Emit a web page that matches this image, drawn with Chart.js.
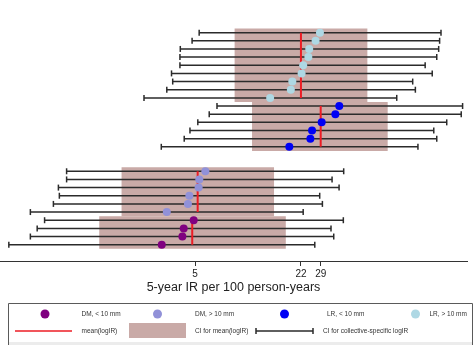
<!DOCTYPE html>
<html>
<head>
<meta charset="utf-8">
<script src="https://cdn.jsdelivr.net/npm/chart.js@4.4.1/dist/chart.umd.min.js"></script>
<style>
  html, body { margin: 0; padding: 0; background: #ffffff; }
  #wrap { width: 474px; height: 345px; position: relative; }
</style>
</head>
<body>
<div id="wrap"><canvas id="c" width="474" height="345"></canvas></div>
<script>
// ---- Data ----
const groupLabels = ['LR, > 10 mm', 'LR, < 10 mm', 'DM, > 10 mm', 'DM, < 10 mm'];

// LR, > 10 mm
const lrGt10Est = [28.7, 27.0, 24.7, 24.4, 22.7, 22.2, 19.5, 19.1, 14.3];
const lrGt10Lo  = [5.3, 4.8, 4.07, 4.05, 4.05, 3.6, 3.66, 3.37, 2.45];
const lrGt10Hi  = [156, 153, 151, 147, 125, 138, 105, 109, 84];
// LR, < 10 mm
const lrLt10Est = [37.6, 35.6, 29.4, 25.7, 25.1, 18.7];
const lrLt10Lo  = [6.8, 6.1, 5.2, 4.66, 4.3, 3.12];
const lrLt10Hi  = [211, 207, 169, 141, 147, 113];
// DM, > 10 mm
const dmGt10Est = [5.78, 5.31, 5.26, 4.62, 4.53, 3.37];
const dmGt10Lo  = [0.83, 0.83, 0.74, 0.75, 0.69, 0.50];
const dmGt10Hi  = [40.0, 34.0, 37.5, 28.6, 29.7, 22.7];
// DM, < 10 mm
const dmLt10Est = [4.91, 4.27, 4.19, 3.14];
const dmLt10Lo  = [0.61, 0.55, 0.50, 0.37];
const dmLt10Hi  = [39.8, 33.5, 34.8, 26.7];

// group means of logIR (back-transformed) and their CI, same order as groupLabels
const groupMean   = [22.0, 29.0, 5.19, 4.81];
const groupMeanLo = [8.7, 11.1, 1.79, 1.31];
const groupMeanHi = [55.7, 74.0, 15.1, 17.8];

const tickValues = [5, 22, 29];
const xTitle = '5-year IR per 100 person-years';
const legendMarkerLabels = ['DM, < 10 mm', 'DM, > 10 mm', 'LR, < 10 mm', 'LR, > 10 mm'];
const legendOtherLabels = ['mean(logIR)', 'CI for mean(logIR)', 'CI for collective-specific logIR'];

// ---- Styles ----
const dotColors = {
  'DM, < 10 mm': '#800080',
  'DM, > 10 mm': '#9191d8',
  'LR, < 10 mm': '#0000f5',
  'LR, > 10 mm': '#aed8e4'
};
const boxColor = '#c9aaa7';
const whiskerColor = '#2b2b2b';
const meanColor = '#ec1c24';

// ---- Build rows (top to bottom) ----
const groupEst = [lrGt10Est, lrLt10Est, dmGt10Est, dmLt10Est];
const groupLo  = [lrGt10Lo, lrLt10Lo, dmGt10Lo, dmLt10Lo];
const groupHi  = [lrGt10Hi, lrLt10Hi, dmGt10Hi, dmLt10Hi];
const gapAfter = [0, 2, 0, 0];

const boxDatasets = [], dotDatasets = [];
const whiskerData = [], meanData = [];
let row = 0;
groupLabels.forEach((lab, g) => {
  const first = row;
  const est = groupEst[g];
  const dots = [];
  est.forEach((v, i) => {
    dots.push({x: v, y: row});
    whiskerData.push({x: groupLo[g][i], y: row}, {x: groupHi[g][i], y: row}, {x: null, y: null});
    row++;
  });
  const last = row - 1;
  meanData.push({x: groupMean[g], y: first}, {x: groupMean[g], y: last}, {x: null, y: null});
  boxDatasets.push({
    type: 'line',
    label: 'box ' + lab,
    data: [
      {x: groupMeanLo[g], y: first - 0.5}, {x: groupMeanHi[g], y: first - 0.5},
      {x: groupMeanHi[g], y: last + 0.5}, {x: groupMeanLo[g], y: last + 0.5},
      {x: groupMeanLo[g], y: first - 0.5}
    ],
    borderWidth: 0,
    borderColor: 'rgba(0,0,0,0)',
    backgroundColor: boxColor,
    fill: 'shape',
    pointRadius: 0,
    tension: 0,
    order: 10
  });
  dotDatasets.push({
    type: 'line',
    label: lab,
    data: dots,
    showLine: false,
    pointRadius: 4,
    pointBackgroundColor: dotColors[lab],
    pointBorderColor: dotColors[lab],
    pointBorderWidth: 0,
    order: 1
  });
  row += gapAfter[g];
});

const datasets = [
  ...boxDatasets,
  {
    type: 'line', label: 'whiskers', data: whiskerData,
    borderColor: whiskerColor, borderWidth: 1.5, spanGaps: false,
    pointStyle: 'line', rotation: 90, pointRadius: 3,
    pointBorderColor: whiskerColor, pointBorderWidth: 1.5,
    fill: false, order: 5
  },
  {
    type: 'line', label: 'means', data: meanData,
    borderColor: meanColor, borderWidth: 2, spanGaps: false,
    pointRadius: 0, fill: false, order: 3
  },
  ...dotDatasets
];

// ---- Custom legend drawn under the axis ----
const legendPlugin = {
  id: 'stataLegend',
  afterDraw(chart) {
    const ctx = chart.ctx;
    ctx.save();
    // frame
    ctx.fillStyle = '#ececec';
    ctx.fillRect(9, 342, 463, 3);
    ctx.strokeStyle = '#5a5a5a';
    ctx.lineWidth = 1;
    ctx.beginPath();
    ctx.moveTo(8.5, 345); ctx.lineTo(8.5, 303.5); ctx.lineTo(472.5, 303.5); ctx.lineTo(472.5, 345);
    ctx.stroke();

    ctx.font = '6.5px "Liberation Sans", Arial, sans-serif';
    ctx.textBaseline = 'middle';
    ctx.textAlign = 'left';
    const y1 = 314, y2 = 331;
    const markerX = [45, 157.5, 284.5, 415.5];
    const labelX = [81.5, 195, 327, 429.5];
    legendMarkerLabels.forEach((lab, i) => {
      ctx.fillStyle = dotColors[lab];
      ctx.beginPath();
      ctx.arc(markerX[i], y1, 4.5, 0, Math.PI * 2);
      ctx.fill();
      ctx.fillStyle = '#333';
      ctx.fillText(lab, labelX[i], y1);
    });
    // mean line
    ctx.strokeStyle = meanColor; ctx.lineWidth = 1.5;
    ctx.beginPath(); ctx.moveTo(15, y2); ctx.lineTo(72, y2); ctx.stroke();
    ctx.fillStyle = '#333';
    ctx.fillText(legendOtherLabels[0], 81.5, y2);
    // box
    ctx.fillStyle = boxColor;
    ctx.fillRect(129, 323, 57, 15);
    ctx.fillStyle = '#333';
    ctx.fillText(legendOtherLabels[1], 195, y2);
    // I-bar
    ctx.strokeStyle = whiskerColor; ctx.lineWidth = 1.5;
    ctx.beginPath();
    ctx.moveTo(256, y2); ctx.lineTo(313, y2);
    ctx.moveTo(256, y2 - 3); ctx.lineTo(256, y2 + 3);
    ctx.moveTo(313, y2 - 3); ctx.lineTo(313, y2 + 3);
    ctx.stroke();
    ctx.fillStyle = '#333';
    ctx.fillText(legendOtherLabels[2], 323, y2);
    ctx.restore();
  }
};

new Chart(document.getElementById('c'), {
  type: 'line',
  data: { datasets },
  plugins: [legendPlugin],
  options: {
    responsive: false,
    animation: false,
    events: [],
    layout: { autoPadding: false, padding: { left: 0, right: 7, top: 0, bottom: 50 } },
    plugins: { legend: { display: false }, tooltip: { enabled: false } },
    scales: {
      x: {
        type: 'logarithmic',
        min: 0.327,
        max: 224.4,
        bounds: 'data',
        afterBuildTicks: (scale) => { scale.ticks = tickValues.map(v => ({ value: v })); },
        afterFit: (scale) => { scale.height = 34; scale.paddingLeft = 0; scale.paddingRight = 0; },
        ticks: {
          autoSkip: false,
          maxRotation: 0,
          padding: 2,
          color: '#222',
          font: { family: '"Liberation Sans", Arial, sans-serif', size: 10 },
          callback: (v) => String(v)
        },
        grid: {
          display: true, drawOnChartArea: false, drawTicks: true,
          tickLength: 5, color: '#333', lineWidth: 1
        },
        border: { display: true, color: '#333', width: 1 },
        title: {
          display: true, text: xTitle, color: '#222',
          font: { family: '"Liberation Sans", Arial, sans-serif', size: 12.5 },
          padding: { top: 0, bottom: 0 }
        }
      },
      y: {
        type: 'linear',
        display: false,
        reverse: true,
        min: -4,
        max: 28
      }
    }
  }
});
</script>
</body>
</html>
